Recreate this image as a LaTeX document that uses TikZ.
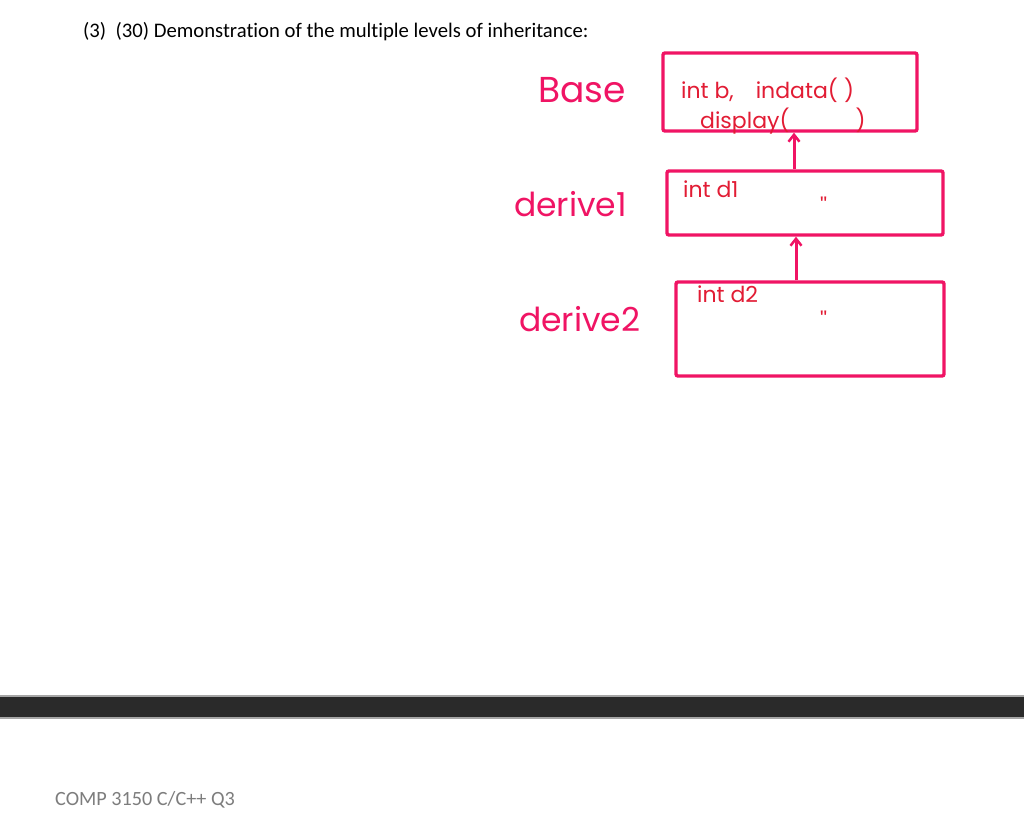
\documentclass[tikz,border=0pt]{standalone}
\usepackage{fontspec}
\setmainfont[Ligatures={TeX,NoCommon}]{Carlito}
\newfontfamily\hand{Poppins}
\usetikzlibrary{arrows.meta}
\definecolor{ink}{RGB}{240,20,100}
\definecolor{inkred}{RGB}{226,28,52}
\definecolor{bar}{RGB}{42,42,42}
\definecolor{foot}{RGB}{125,125,125}
\begin{document}
\begin{tikzpicture}[x=1pt,y=-1pt,
  cls/.style={draw=ink, line width=3.4pt, rounded corners=2pt, inner sep=0pt},
  lbl/.style={text=ink, font=\hand\fontsize{33}{36}\selectfont, inner sep=0pt, anchor=base west},
  mem/.style={text=inkred, font=\hand\fontsize{22}{26}\selectfont, inner sep=0pt, anchor=base west},
  inh/.style={draw=ink, line width=3pt, -{Straight Barb[length=7pt,width=11pt,line width=2.5pt]}}]
\useasboundingbox (0,0) rectangle (1024,830);
\fill[white] (0,0) rectangle (1024,830);
% header
\node[anchor=base west, inner sep=0pt, font=\fontsize{20.7}{24}\selectfont] (title) at (83,37) {(3)\ \ (30) Demonstration of the multiple levels of inheritance:};
% page break bar
\fill[black!35] (0,695) rectangle (1024,719);
\fill[bar] (0,697) rectangle (1024,717);
\node[anchor=base west, inner sep=0pt, text=foot, font=\fontsize{20.2}{24}\selectfont] (footer) at (55,805) {COMP 3150 C/C++ Q3};
% class boxes
\node[cls, minimum width=254pt, minimum height=78pt] (base) at (790,92) {};
\node[cls, minimum width=276pt, minimum height=64pt] (d1) at (805,203) {};
\node[cls, minimum width=268pt, minimum height=94pt] (d2) at (810,329) {};
% labels
\node[lbl, font=\hand\fontsize{36}{40}\selectfont] (lbase) at (538,102) {Base};
\node[lbl] (ld1) at (514,216) {derive1};
\node[lbl] (ld2) at (519,331) {derive2};
% members
\node[mem] (m1) at (681,98) {int b,\quad indata(\;)};
\node[mem] (m2) at (700,128) {display(\qquad\quad )};
\node[mem] (m3) at (683,197) {int d1};
\node[mem] (m4) at (820,214) {''};
\node[mem] (m5) at (697,302) {int d2};
\node[mem] (m6) at (820,328) {''};
% inheritance arrows
\draw[inh] (d1.north -| 794,0) -- (base.south -| 794,0);
\draw[inh] (d2.north -| 796,0) -- (d1.south -| 796,0);
\end{tikzpicture}
\end{document}
